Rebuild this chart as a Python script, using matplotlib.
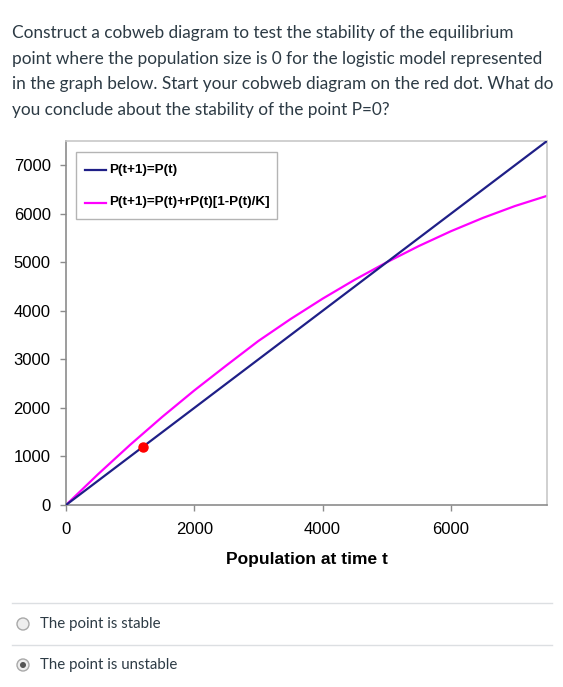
import matplotlib
matplotlib.use('Agg')
import matplotlib.pyplot as plt
from matplotlib.patches import Circle, Rectangle
from matplotlib.lines import Line2D

# ---------------- data ----------------
question_lines = [
    "Construct a cobweb diagram to test the stability of the equilibrium",
    "point where the population size is 0 for the logistic model represented",
    "in the graph below. Start your cobweb diagram on the red dot. What do",
    "you conclude about the stability of the point P=0?",
]
options = ["The point is stable", "The point is unstable"]
selected_option = 1

x_ticks = [0, 2000, 4000, 6000]
y_ticks = [0, 1000, 2000, 3000, 4000, 5000, 6000, 7000]
x_label = "Population at time t"
legend_labels = ["P(t+1)=P(t)", "P(t+1)=P(t)+rP(t)[1-P(t)/K]"]

pop_t = [0, 500, 1000, 1500, 2000, 2500, 3000, 3500, 4000, 4500,
         5000, 5500, 6000, 6500, 7000, 7500]
identity_next = [0, 500, 1000, 1500, 2000, 2500, 3000, 3500, 4000, 4500,
                 5000, 5500, 6000, 6500, 7000, 7500]
logistic_next = [0, 635, 1240, 1815, 2360, 2875, 3380, 3830, 4250, 4640,
                 5000, 5335, 5640, 5915, 6160, 6370]
red_dot_x = [1200]
red_dot_y = [1200]

# ---------------- layout ----------------
W, H = 563, 687
fig = plt.figure(figsize=(W / 100, H / 100), dpi=100)
fig.patch.set_facecolor('white')

bg = fig.add_axes([0, 0, 1, 1], zorder=0)
bg.set_xlim(0, W)
bg.set_ylim(H, 0)
bg.axis('off')

text_color = '#2d3b45'
line_y = [33, 59, 84, 110]
for txt, yy in zip(question_lines, line_y):
    bg.text(12, yy, txt, fontsize=12.4, family=['Lato', 'DejaVu Sans'],
            color=text_color, va='center', ha='left')

# separators and radio options
for yy in [603, 645]:
    bg.plot([12, 552], [yy, yy], color='#dcdfe2', lw=1.0)
opt_y = [624, 665]
for i, (txt, yy) in enumerate(zip(options, opt_y)):
    bg.add_patch(Circle((23, yy), 6, facecolor='#eeeeee', edgecolor='#a9a9a9', lw=1.0))
    if i == selected_option:
        bg.add_patch(Circle((23, yy), 3, facecolor='#555555', edgecolor='none'))
    bg.text(40, yy, txt, fontsize=10.8, family=['Lato', 'DejaVu Sans'],
            color=text_color, va='center', ha='left')

# ---------------- chart ----------------
ax_left, ax_right, ax_top, ax_bottom = 66, 547, 141, 505
ax = fig.add_axes([ax_left / W, (H - ax_bottom) / H,
                   (ax_right - ax_left) / W, (ax_bottom - ax_top) / H], zorder=1)
ax.set_xlim(0, 7500)
ax.set_ylim(0, 7500)

navy = '#1f1f87'
magenta = '#ff00ff'
ax.plot(pop_t, identity_next, color=navy, lw=1.6, zorder=3)
ax.plot(pop_t, logistic_next, color=magenta, lw=1.6, zorder=2)
ax.plot(red_dot_x, red_dot_y, 'o', color='#ff0000', ms=6.5, zorder=4)

ax.set_xticks(x_ticks)
ax.set_yticks(y_ticks)
ax.set_xticklabels([str(v) for v in x_ticks])
ax.set_yticklabels([str(v) for v in y_ticks])
ax.tick_params(axis='both', direction='out', length=4, width=1, color='#8c8c8c',
               labelsize=12, labelcolor='#000000')
ax.tick_params(axis='x', pad=8)
ax.tick_params(axis='y', pad=7)
for lab in ax.get_xticklabels() + ax.get_yticklabels():
    lab.set_family(['Liberation Sans', 'DejaVu Sans'])

for s in ['left', 'bottom']:
    ax.spines[s].set_color('#8c8c8c')
    ax.spines[s].set_linewidth(1.2)
for s in ['top', 'right']:
    ax.spines[s].set_color('#c8c8c8')
    ax.spines[s].set_linewidth(1.2)

ax.set_xlabel(x_label, fontsize=12.5, fontweight='bold',
              family=['Liberation Sans', 'DejaVu Sans'], labelpad=11)

# legend (drawn in pixel coordinates on top of the plot area)
top = fig.add_axes([0, 0, 1, 1], zorder=2)
top.set_xlim(0, W)
top.set_ylim(H, 0)
top.axis('off')
top.add_patch(Rectangle((76, 152), 201, 67, facecolor='white',
                        edgecolor='#b4b4b4', lw=1.0))
for lbl, col, yy in zip(legend_labels, [navy, magenta], [169.5, 202.5]):
    top.add_line(Line2D([85, 106], [yy, yy], color=col, lw=1.6))
    top.text(109, yy, lbl, fontsize=9.7, fontweight='bold',
             family=['Liberation Sans', 'DejaVu Sans'], color='#000000',
             va='center', ha='left')

fig.savefig('out.png', dpi=100, facecolor='white')
